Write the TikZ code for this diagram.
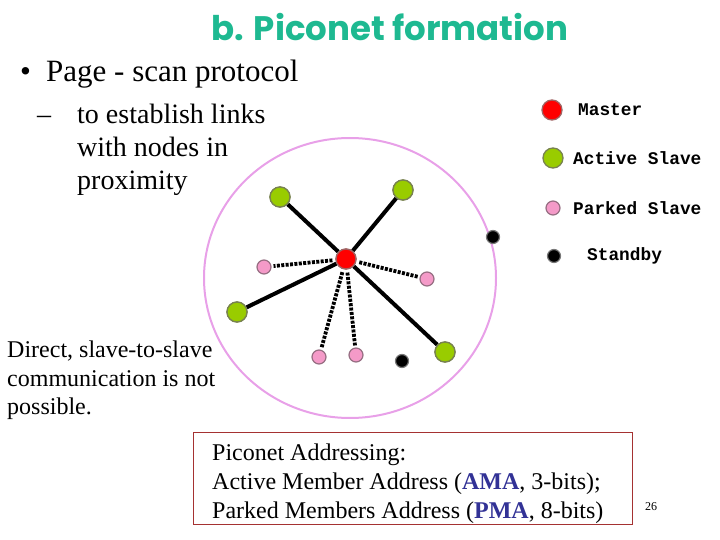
\documentclass[tikz,border=0pt]{standalone}
\usepackage{fontspec}
\setmainfont{Liberation Serif}
\newfontfamily\monof{Liberation Mono}
\newfontfamily\titlef{Poppins}
\definecolor{titleteal}{RGB}{30,185,145}
\definecolor{ringpink}{RGB}{232,160,232}
\definecolor{mred}{RGB}{255,0,0}
\definecolor{mredb}{RGB}{160,100,100}
\definecolor{agreen}{RGB}{153,204,0}
\definecolor{agreenb}{RGB}{120,130,80}
\definecolor{ppink}{RGB}{244,154,200}
\definecolor{ppinkb}{RGB}{150,110,130}
\definecolor{sblack}{RGB}{0,0,0}
\definecolor{sblackb}{RGB}{120,120,120}
\definecolor{boxred}{RGB}{165,50,50}
\definecolor{addrblue}{RGB}{50,50,150}
\tikzset{
  master/.style={circle,fill=mred,draw=mredb,line width=1.3pt,minimum size=20pt,inner sep=0pt},
  active/.style={circle,fill=agreen,draw=agreenb,line width=1.3pt,minimum size=20pt,inner sep=0pt},
  parked/.style={circle,fill=ppink,draw=ppinkb,line width=1.2pt,minimum size=14pt,inner sep=0pt},
  standby/.style={circle,fill=sblack,draw=sblackb,line width=1.2pt,minimum size=13pt,inner sep=0pt},
  activelink/.style={line width=4pt,black},
  parklink/.style={line width=3.8pt,black,dash pattern=on 3pt off 1.4pt,shorten <=3pt,shorten >=2pt},
  legendtext/.style={anchor=west,inner sep=0pt,font=\monof\bfseries\fontsize{17.8}{20}\selectfont},
  serif/.style={anchor=base west,inner sep=0pt}
}
\begin{document}
\begin{tikzpicture}[x=1pt,y=-1pt]
\useasboundingbox (0,0) rectangle (720,540);
% title
\node[anchor=base,inner sep=0pt,text=titleteal,font=\titlef\bfseries\fontsize{34}{40}\selectfont] (title) at (390,41) {b. Piconet formation};
% bullets
\node[serif,font=\fontsize{31}{37}\selectfont] (bul) at (20,82) {\textbullet};
\node[serif,font=\fontsize{31}{37}\selectfont] (b1) at (46,82) {Page - scan protocol};
\node[serif,font=\fontsize{28}{33}\selectfont] (dash) at (37,124) {–};
\node[serif,font=\fontsize{28}{33}\selectfont] (s1) at (77,124) {to establish links};
\node[serif,font=\fontsize{28}{33}\selectfont] (s2) at (77,157) {with nodes in};
\node[serif,font=\fontsize{28}{33}\selectfont] (s3) at (77,190) {proximity};
% direct
\node[serif,font=\fontsize{24}{28}\selectfont] (d1) at (7,357) {Direct, slave-to-slave};
\node[serif,font=\fontsize{24}{28}\selectfont] (d2) at (7,386) {communication is not};
\node[serif,font=\fontsize{24}{28}\selectfont] (d3) at (7,414) {possible.};
% ring
\draw[ringpink,line width=2pt] (350,278) ellipse [x radius=146,y radius=140];
% nodes
\node[master] (M) at (346,259) {};
\node[active] (a1) at (280,197) {};
\node[active] (a2) at (403,190) {};
\node[active] (a3) at (237,312) {};
\node[active] (a4) at (445,352) {};
\node[parked] (p1) at (264,267) {};
\node[parked] (p2) at (427,279) {};
\node[parked] (p3) at (319,357) {};
\node[parked] (p4) at (356,355) {};
\node[standby] (s1b) at (493,237) {};
\node[standby] (s2b) at (402,361) {};
\draw[activelink] (a1) -- (M);
\draw[activelink] (a2) -- (M);
\draw[activelink] (a3) -- (M);
\draw[activelink] (a4) -- (M);
\draw[parklink] (M) -- (p1);
\draw[parklink] (M) -- (p2);
\draw[parklink] (M) -- (p3);
\draw[parklink] (M) -- (p4);
% redraw nodes on top
\node[master] at (M) {};
\node[active] at (a1) {};
\node[active] at (a2) {};
\node[active] at (a3) {};
\node[active] at (a4) {};
% legend
\node[master] (lm) at (552,110) {};
\node[active] (la) at (553,158) {};
\node[parked] (lp) at (553,208) {};
\node[standby] (ls) at (554,256) {};
\node[legendtext] (tm) at (578,110) {Master};
\node[legendtext] (ta) at (573,158) {Active Slave};
\node[legendtext] (tp) at (573,208) {Parked Slave};
\node[legendtext] (ts) at (587,256) {Standby};
% addressing box
\draw[boxred,line width=1pt] (193,432) rectangle (632,524);
\node[serif,font=\fontsize{24}{29}\selectfont] (ad1) at (212,460) {Piconet Addressing:};
\node[serif,font=\fontsize{24}{29}\selectfont] (ad2) at (212,489) {Active Member Address (\textcolor{addrblue}{\textbf{AMA}}, 3-bits);};
\node[serif,font=\fontsize{24}{29}\selectfont] (ad3) at (212,518) {Parked Members Address (\textcolor{addrblue}{\textbf{PMA}}, 8-bits)};
\node[serif,font=\fontsize{12}{14}\selectfont] (pg) at (645,510) {26};
\end{tikzpicture}
\end{document}
